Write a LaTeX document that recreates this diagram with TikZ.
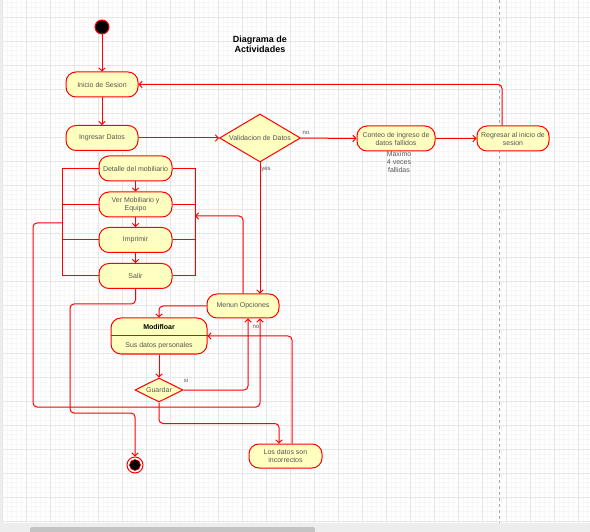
\documentclass[tikz,border=0pt]{standalone}
\usepackage{xcolor}
\usepackage{fontspec}
\setmainfont{Liberation Sans}
\usepackage{tikz}
\usetikzlibrary{calc,arrows.meta,shapes.geometric}
\tikzset{>={Straight Barb[length=3pt,width=6.5pt]}}
\definecolor{linered}{HTML}{FF0000}
\definecolor{actfill}{HTML}{FFFFC0}
\definecolor{txtgray}{HTML}{555555}
\definecolor{gridmajor}{HTML}{E6E6E6}
\definecolor{gridminor}{HTML}{F7F7F7}
\definecolor{barbg}{HTML}{EDEDED}
\definecolor{thumb}{HTML}{C4C4C4}
\tikzset{
  act/.style={draw=linered, fill=actfill, line width=1pt, rounded corners=10pt,
    minimum width=72pt, minimum height=25pt, inner sep=1pt, align=center,
    text=txtgray, font=\fontsize{7}{8}\selectfont},
  decis/.style={diamond, draw=linered, fill=actfill, line width=1pt, inner sep=0pt,
    text=txtgray, font=\fontsize{7}{8}\selectfont},
  flow/.style={draw=linered, line width=1pt, ->, rounded corners=4pt},
  link/.style={draw=linered, line width=1pt},
  lbl/.style={text=txtgray, font=\fontsize{6}{7}\selectfont, inner sep=0pt},
}

\begin{document}
\begin{tikzpicture}[x=1pt,y=-1pt]
        \useasboundingbox (0,0) rectangle (590,532);
        % Canvas
        \fill[barbg] (0,0) rectangle (590,532);
        \fill[white] (2,0) rectangle (590,523);
        \begin{scope}
          \clip (2,0) rectangle (590,523);
          \foreach \gx in {2,6.8,...,592} \draw[gridminor,line width=0.5pt] (\gx,0) -- (\gx,523);
          \foreach \gy in {-7,-2.2,...,525} \draw[gridminor,line width=0.5pt] (2,\gy) -- (590,\gy);
          \foreach \gx in {2,26,...,590} \draw[gridmajor,line width=0.8pt] (\gx,0) -- (\gx,523);
          \foreach \gy in {-7,17,...,523} \draw[gridmajor,line width=0.8pt] (2,\gy) -- (590,\gy);
        \end{scope}
        \draw[gray!70,dashed,line width=0.8pt] (499,0) -- (499,523);
        \fill[thumb,rounded corners=2pt] (30,527) rectangle (315,533);

        % Title
        \node[font=\bfseries\fontsize{9}{10}\selectfont, align=center] (title) at (260,44) {Diagrama de\\Actividades};

        % Activities
        \node[circle, fill=black, draw=linered, line width=1pt, minimum size=14pt, inner sep=0pt] (start) at (102,27) {};
        \node[act] (ini) at (102,84.5) {Inicio de Sesion};
        \node[act] (ingr) at (102,138) {Ingresar Datos};
        \node[decis, aspect=1.69, minimum width=81pt, minimum height=48pt] (valid) at (260,138) {Validacion de Datos};
        \node[act, minimum width=78pt] (conteo) at (396,138.5) {Conteo de ingreso de\\datos fallidos};
        \node[act] (regr) at (513,138.5) {Regresar al inicio de\\sesion};
        \node[lbl, align=center, font=\fontsize{7}{8}\selectfont] (maximo) at (399,162) {Maximo\\4 veces\\fallidas};
        \node[act, minimum width=73pt] (detalle) at (135.5,168.5) {Detalle del mobiliario};
        \node[act, minimum width=73pt] (ver) at (135.5,204.5) {Ver Mobiliario y\\Equipo};
        \node[act, minimum width=73pt] (impr) at (135.5,240) {Imprimir};
        \node[act, minimum width=73pt] (salir) at (135.5,276) {Salir};
        \node[act, minimum height=24pt] (menu) at (243,306) {Menun Opciones};
        \node[act, minimum width=96pt, minimum height=36pt] (modif) at (159,336) {};
        \draw[link] (modif.west) -- (modif.east);
        \node[font=\bfseries\fontsize{7}{8}\selectfont] (modiftit) at ([yshift=9pt]modif.center) {Modifloar};
        \node[text=txtgray, font=\fontsize{7}{8}\selectfont] (modiftxt) at ([yshift=-10pt]modif.center) {Sus datos personales};
        \node[decis, aspect=2, minimum width=48pt, minimum height=24pt] (guard) at (159,390) {Guardar};
        \node[act, minimum width=73pt, minimum height=24pt] (datos) at (285.5,456) {Los datos son\\incorrectos};
        \node[circle, fill=white, draw=linered, line width=1pt, minimum size=16pt, inner sep=0pt] (fin) at (135,465) {};
        \node[circle, fill=black, draw=linered, line width=0.6pt, minimum size=11pt, inner sep=0pt] (fininner) at (fin) {};

        % Labels
        \node[lbl] (lblno) at (306,133) {no};
        \node[lbl] (lblyes) at (266,170) {yes};
        \node[lbl] (lblsi) at (186,380) {si};
        \node[lbl] (lblno2) at (256,327) {no};

        % Joins
        \coordinate (rjoin) at (195,216);
        \coordinate (ljoin) at (63,223);

        % Connectors
        \draw[flow] (start) -- (ini);
        \draw[flow] (ini) -- (ingr);
        \draw[flow] (ingr) -- (valid);
        \draw[flow] (valid) -- (conteo);
        \draw[flow] (conteo) -- (regr);
        \draw[flow] ([xshift=-11pt]regr.north) |- (ini.east);
        \draw[flow] (valid.south) -- (valid.south |- menu.north);
        \draw[flow] (detalle) -- (ver);
        \draw[flow] (ver) -- (impr);
        \draw[flow] (impr) -- (salir);
        \draw[link] (detalle.west) -- ++(-36,0) |- (salir.west);
        \draw[link] (ver.west) -- ++(-36,0);
        \draw[link] (impr.west) -- ++(-36,0);
        \draw[link] (detalle.east) -- ++(23,0) |- (salir.east);
        \draw[link] (ver.east) -- ++(23,0);
        \draw[link] (impr.east) -- ++(23,0);
        \draw[flow] (menu.north) |- (rjoin);
        \draw[flow] (ljoin) -| (33,407) -| ([xshift=17pt]menu.south);
        \draw[flow] (salir.south) -- ++(0,15) -| (70,413) -| (fin.north);
        \draw[flow] (menu.west) -| (modif.north);
        \draw[flow] (modif.south) -- (guard.north);
        \draw[flow] (guard.east) -| ([xshift=5pt]menu.south);
        \draw[flow] (guard.south) -- ++(0,21) -| ([xshift=-6.5pt]datos.north);
        \draw[flow] ([xshift=6.5pt]datos.north) |- (modif.east);

      \end{tikzpicture}
\end{document}
